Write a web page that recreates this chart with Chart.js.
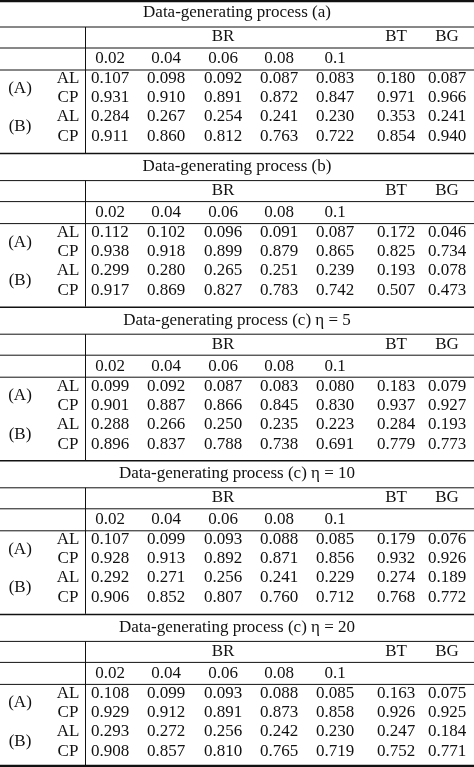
<!DOCTYPE html>
<html><head><meta charset="utf-8">
<script src="https://cdn.jsdelivr.net/npm/chart.js@4"></script>
<style>html,body{margin:0;padding:0;background:#fff}#wrap{width:474px;height:767px}</style>
</head><body><div id="wrap"><canvas id="c"></canvas></div>
<script>
const TITLES = [
  'Data-generating process (a)',
  'Data-generating process (b)',
  'Data-generating process (c) η = 5',
  'Data-generating process (c) η = 10',
  'Data-generating process (c) η = 20',
];
const BR_LEVELS = ['0.02', '0.04', '0.06', '0.08', '0.1'];
const GROUPS = ['(A)', '(B)'];
const MEASURES = ['AL', 'CP', 'AL', 'CP'];
const VALUES_A = [
  ['0.107','0.098','0.092','0.087','0.083','0.180','0.087'],
  ['0.931','0.910','0.891','0.872','0.847','0.971','0.966'],
  ['0.284','0.267','0.254','0.241','0.230','0.353','0.241'],
  ['0.911','0.860','0.812','0.763','0.722','0.854','0.940'],
];
const VALUES_B = [
  ['0.112','0.102','0.096','0.091','0.087','0.172','0.046'],
  ['0.938','0.918','0.899','0.879','0.865','0.825','0.734'],
  ['0.299','0.280','0.265','0.251','0.239','0.193','0.078'],
  ['0.917','0.869','0.827','0.783','0.742','0.507','0.473'],
];
const VALUES_C5 = [
  ['0.099','0.092','0.087','0.083','0.080','0.183','0.079'],
  ['0.901','0.887','0.866','0.845','0.830','0.937','0.927'],
  ['0.288','0.266','0.250','0.235','0.223','0.284','0.193'],
  ['0.896','0.837','0.788','0.738','0.691','0.779','0.773'],
];
const VALUES_C10 = [
  ['0.107','0.099','0.093','0.088','0.085','0.179','0.076'],
  ['0.928','0.913','0.892','0.871','0.856','0.932','0.926'],
  ['0.292','0.271','0.256','0.241','0.229','0.274','0.189'],
  ['0.906','0.852','0.807','0.760','0.712','0.768','0.772'],
];
const VALUES_C20 = [
  ['0.108','0.099','0.093','0.088','0.085','0.163','0.075'],
  ['0.929','0.912','0.891','0.873','0.858','0.926','0.925'],
  ['0.293','0.272','0.256','0.242','0.230','0.247','0.184'],
  ['0.908','0.857','0.810','0.765','0.719','0.752','0.771'],
];
const BLOCKS = [VALUES_A, VALUES_B, VALUES_C5, VALUES_C10, VALUES_C20];

// table grid in scale units (x: 0..474, y: 0..767)
const COL_X = [110, 166, 223, 279, 335, 396, 447];
const BLOCK_STEP = 153.6;
const ROW_Y = [79, 98, 117, 137];

const points = [];
BLOCKS.forEach((rows, b) => rows.forEach((r, i) => r.forEach((v, j) =>
  points.push({ x: COL_X[j], y: b * BLOCK_STEP + ROW_Y[i], t: v }))));

const tablePlugin = {
  id: 'table',
  afterDatasetsDraw(chart) {
    const { ctx, scales: { x, y } } = chart;
    const X = (v) => x.getPixelForValue(v), Y = (v) => y.getPixelForValue(v);
    ctx.save();
    ctx.fillStyle = '#111';
    ctx.strokeStyle = '#111';
    ctx.textAlign = 'center';
    ctx.textBaseline = 'middle';
    ctx.font = '17px "Liberation Serif", "DejaVu Serif", serif';
    const hline = (yy, w) => { ctx.lineWidth = w; ctx.beginPath(); ctx.moveTo(X(0), Y(yy)); ctx.lineTo(X(474), Y(yy)); ctx.stroke(); };
    TITLES.forEach((t, b) => {
      const o = b * BLOCK_STEP;
      ctx.fillText(t, X(237), Y(o + 13));
      hline(o + 27, 1);
      hline(o + 48, 1);
      hline(o + 70, 1);
      ctx.lineWidth = 1;
      ctx.beginPath(); ctx.moveTo(X(85.5), Y(o + 27)); ctx.lineTo(X(85.5), Y(o + 153)); ctx.stroke();
      ctx.fillText('BR', X(223), Y(o + 37));
      ctx.fillText('BT', X(396), Y(o + 37));
      ctx.fillText('BG', X(447), Y(o + 37));
      BR_LEVELS.forEach((l, j) => ctx.fillText(l, X(COL_X[j]), Y(o + 59)));
      GROUPS.forEach((g, k) => ctx.fillText(g, X(20), Y(o + (ROW_Y[2 * k] + ROW_Y[2 * k + 1]) / 2)));
      MEASURES.forEach((m, i) => ctx.fillText(m, X(68), Y(o + ROW_Y[i])));
    });
    for (const p of points) ctx.fillText(p.t, X(p.x), Y(p.y));
    hline(1, 2.5);
    for (let b = 1; b < 5; b++) hline(b * BLOCK_STEP, 1.5);
    hline(766, 2.5);
    ctx.restore();
  },
};

new Chart(document.getElementById('c'), {
  type: 'scatter',
  data: { datasets: [{ data: points, pointRadius: 0 }] },
  options: {
    responsive: true,
    maintainAspectRatio: false,
    animation: false,
    layout: { padding: 0 },
    plugins: { legend: { display: false }, tooltip: { enabled: false } },
    scales: {
      x: { type: 'linear', min: 0, max: 474, display: false },
      y: { type: 'linear', min: 0, max: 767, reverse: true, display: false },
    },
  },
  plugins: [tablePlugin],
});
</script></body></html>
